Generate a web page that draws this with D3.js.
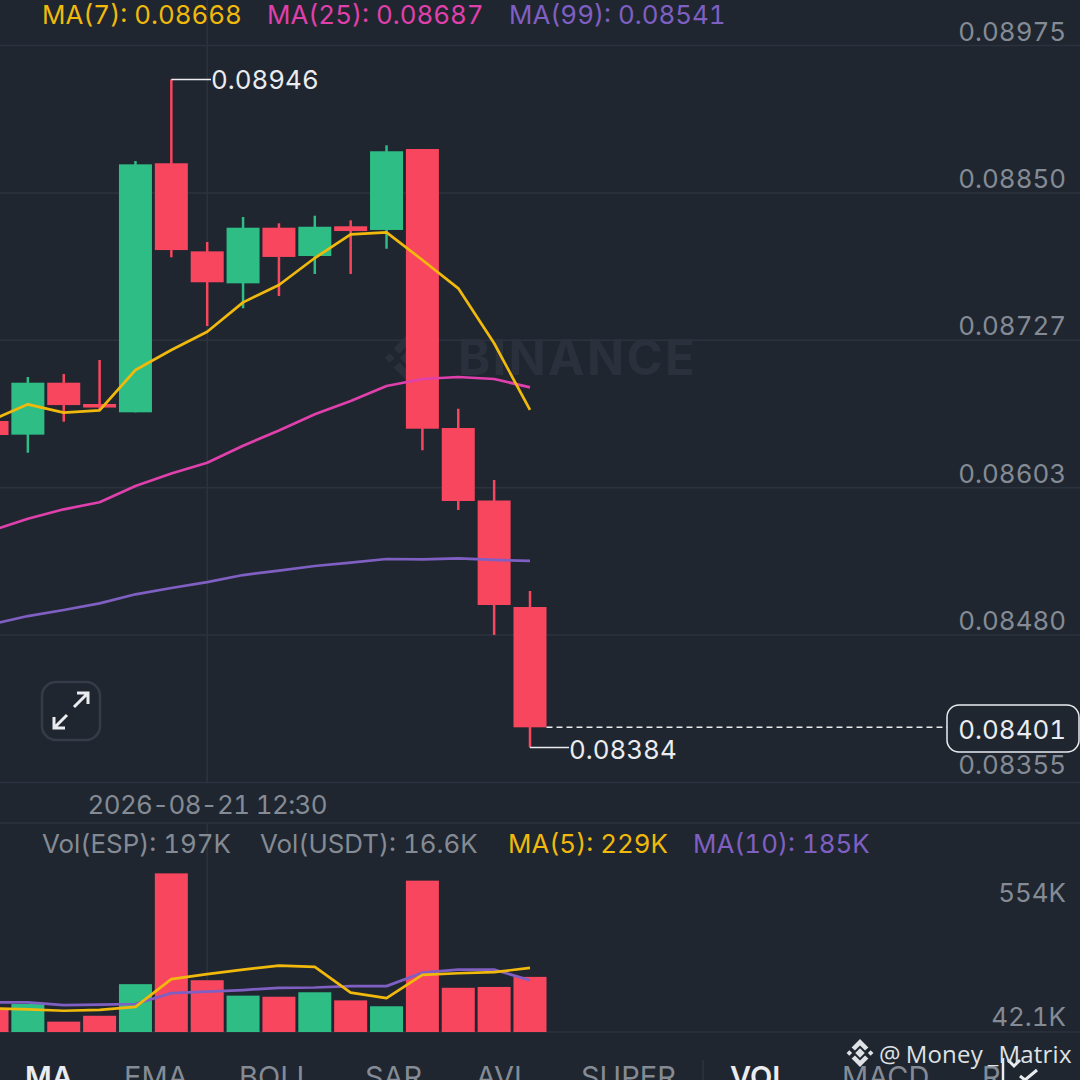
<!DOCTYPE html>
<html>
<head>
<meta charset="utf-8">
<script src="https://cdn.jsdelivr.net/npm/d3@7"></script>
<style>
  html, body { margin: 0; padding: 0; background: #1f2630; overflow: hidden; }
  svg { display: block; font-family: Inter, sans-serif; font-variant-numeric: tabular-nums; }
  svg g.axis text { font-family: Inter, sans-serif; }
</style>
</head>
<body>
<svg width="1080" height="1080"></svg>
<script>
// candles, oldest first
var opens  = [0.086587, 0.086472, 0.086909, 0.086730, 0.086660, 0.088755, 0.088014, 0.087745, 0.088213, 0.087975, 0.088225, 0.088194, 0.088875, 0.086528, 0.085918, 0.085022];
var closes = [0.086469, 0.086909, 0.086721, 0.086700, 0.088746, 0.088025, 0.087754, 0.088213, 0.087967, 0.088221, 0.088185, 0.088856, 0.086522, 0.085914, 0.085039, 0.084010];
var highs  = [0.086587, 0.086957, 0.086982, 0.087100, 0.088774, 0.089460, 0.088093, 0.088303, 0.088250, 0.088314, 0.088275, 0.088906, 0.088875, 0.086690, 0.086091, 0.085157];
var lows   = [0.086469, 0.086320, 0.086581, 0.086679, 0.086660, 0.087964, 0.087386, 0.087535, 0.087638, 0.087824, 0.087824, 0.088036, 0.086340, 0.085838, 0.084787, 0.083840];

var ma7  = [0.086595, 0.086727, 0.086657, 0.086677, 0.087016, 0.087184, 0.087338, 0.087585, 0.087731, 0.087958, 0.088157, 0.088174, 0.087941, 0.087703, 0.087241, 0.08668];
var ma25 = [0.085666, 0.085765, 0.085844, 0.085903, 0.08604, 0.086145, 0.086236, 0.086379, 0.086507, 0.086643, 0.086755, 0.086881, 0.08694, 0.086957, 0.08694, 0.08687];
var ma99 = [0.084877, 0.084946, 0.084997, 0.085053, 0.085129, 0.085182, 0.085232, 0.085291, 0.085328, 0.085367, 0.085395, 0.085426, 0.085423, 0.085432, 0.085418, 0.08541];

// volume in thousands
var volumes = [79, 100, 37, 58, 171, 567, 185, 130, 126, 142, 113, 92, 541, 158, 161, 197];
var volMa5  = [84, 81, 76, 79, 90, 189, 207, 223, 237, 233, 141, 121, 204, 210, 214, 229];
var volMa10 = [106, 106, 96, 98, 100, 139, 144, 150, 158, 159, 164, 164, 212, 223, 223, 185];

// grid lines are evenly spaced, the printed labels are rounded by the exchange
var priceTicks = [0.08975, 0.08851, 0.08727, 0.08603, 0.08479, 0.08355];
var priceLabels = ["0.08975", "0.08850", "0.08727", "0.08603", "0.08480", "0.08355"];
var volumeTicks = [554, 42.1];
var lastPrice = 0.08401;
var highPrice = 0.08946, highIndex = 5;
var lowPrice = 0.08384, lowIndex = 15;
var crosshairIndex = 6;
var crosshairLabel = "2026-08-21 12:30";
var tabs = ["MA", "EMA", "BOLL", "SAR", "AVL", "SUPER", "VOL", "MACD", "R"];
var tabX = [25, 124, 239, 365, 476, 581, 730, 842, 982];

var GREEN = "#2ebd85", RED = "#f9465f", YELLOW = "#f0b90b", PINK = "#e040ab", PURPLE = "#7f5fc2";
var GRID = "#2c333e", MUTED = "#858b95", WHITE = "#eaecef", BG = "#1f2630";
var FONT_SIZE = 25.9;

var svg = d3.select("svg");
var indexes = d3.range(opens.length);

var x = d3.scaleLinear().domain([0, 15]).range([-8, 530]);
var y = d3.scaleLinear().domain([0.08355, 0.08975]).range([782, 45]);
var yVol = d3.scaleLinear().domain([0, 554]).range([1032, 877]);
var bodyWidth = 33;

function candleColor(i) { return closes[i] >= opens[i] ? GREEN : RED; }

// price axis doubles as the horizontal grid
var priceAxis = svg.append("g").attr("class", "axis")
    .call(d3.axisRight(y).tickValues(priceTicks).tickSize(1080)
      .tickFormat(function(d, i) { return priceLabels[i]; }));
priceAxis.attr("font-family", null);
priceAxis.select(".domain").remove();
priceAxis.selectAll("line").attr("stroke", GRID).attr("stroke-width", 1.5);
priceAxis.selectAll("text")
    .attr("x", 1066).attr("dy", null).attr("text-anchor", "end")
    .attr("y", function(d) { return d === 0.08355 ? -9 : -5; })
    .attr("fill", MUTED).attr("font-size", FONT_SIZE);

// separators of the panels
[823, 1032].forEach(function(py) {
  svg.append("line").attr("x1", 0).attr("x2", 1080).attr("y1", py).attr("y2", py)
      .attr("stroke", GRID).attr("stroke-width", 1.5);
});

// crosshair time tick, both panels
[[0, 782], [823, 1032]].forEach(function(r) {
  svg.append("line").attr("x1", x(crosshairIndex)).attr("x2", x(crosshairIndex))
      .attr("y1", r[0]).attr("y2", r[1]).attr("stroke", GRID).attr("stroke-width", 1.5);
});
svg.append("text").attr("x", x(crosshairIndex)).attr("y", 813.5).attr("text-anchor", "middle")
    .attr("fill", MUTED).attr("font-size", FONT_SIZE).attr("letter-spacing", -0.6).text(crosshairLabel);

// binance logo, used twice
function logo(g, cx, cy, s, fill) {
  var shapes = [
    [[0, -0.17], [0.17, 0], [0, 0.17], [-0.17, 0]],
    [[-0.38, -0.1], [-0.28, 0], [-0.38, 0.1], [-0.48, 0]],
    [[0.38, -0.1], [0.48, 0], [0.38, 0.1], [0.28, 0]],
    [[0, -0.5], [0.3, -0.2], [0.18, -0.09], [0, -0.27], [-0.18, -0.09], [-0.3, -0.2]],
    [[0, 0.5], [0.3, 0.2], [0.18, 0.09], [0, 0.27], [-0.18, 0.09], [-0.3, 0.2]]
  ];
  shapes.forEach(function(p) {
    g.append("polygon")
        .attr("points", p.map(function(q) { return (cx + q[0] * s) + "," + (cy + q[1] * s); }).join(" "))
        .attr("fill", fill);
  });
}

// watermark sits under the candles
logo(svg, 408, 358, 48, "#2b313c");
svg.append("text").attr("x", 458).attr("y", 375).attr("fill", "#2b313c")
    .attr("font-size", 49).attr("font-weight", 700).attr("letter-spacing", 2.2).text("BINANCE");

// wicks
svg.append("g").selectAll("line").data(indexes).join("line")
    .attr("x1", function(i) { return x(i); })
    .attr("x2", function(i) { return x(i); })
    .attr("y1", function(i) { return y(highs[i]); })
    .attr("y2", function(i) { return y(lows[i]); })
    .attr("stroke", candleColor)
    .attr("stroke-width", 2.5);

// bodies
svg.append("g").selectAll("rect").data(indexes).join("rect")
    .attr("x", function(i) { return x(i) - bodyWidth / 2; })
    .attr("width", bodyWidth)
    .attr("y", function(i) { return y(Math.max(opens[i], closes[i])); })
    .attr("height", function(i) { return Math.max(1, Math.abs(y(opens[i]) - y(closes[i]))); })
    .attr("fill", candleColor);

// price moving averages
var priceLine = d3.line().x(function(d, i) { return x(i); }).y(function(d) { return y(d); });
[[ma99, PURPLE], [ma25, PINK], [ma7, YELLOW]].forEach(function(s) {
  svg.append("path").datum(s[0])
      .attr("fill", "none").attr("stroke", s[1]).attr("stroke-width", 2.7)
      .attr("stroke-linejoin", "round")
      .attr("d", priceLine);
});

// high and low markers
svg.append("path")
    .attr("d", "M" + x(highIndex) + "," + y(highPrice) + "H211")
    .attr("stroke", WHITE).attr("stroke-width", 1.5).attr("fill", "none");
svg.append("text").attr("x", 211).attr("y", 89).attr("fill", WHITE).attr("font-size", FONT_SIZE)
    .text(d3.format(".5f")(highPrice));
svg.append("path")
    .attr("d", "M" + x(lowIndex) + "," + y(lowPrice) + "H569")
    .attr("stroke", WHITE).attr("stroke-width", 1.5).attr("fill", "none");
svg.append("text").attr("x", 569).attr("y", 759).attr("fill", WHITE).attr("font-size", FONT_SIZE)
    .text(d3.format(".5f")(lowPrice));

// last price
svg.append("line")
    .attr("x1", x(15) + bodyWidth / 2).attr("x2", 947)
    .attr("y1", y(lastPrice)).attr("y2", y(lastPrice))
    .attr("stroke", WHITE).attr("stroke-width", 1.5).attr("stroke-dasharray", "6,4");
svg.append("rect").attr("x", 947).attr("y", 705).attr("width", 132).attr("height", 47).attr("rx", 12)
    .attr("fill", BG).attr("stroke", WHITE).attr("stroke-width", 1.5);
svg.append("text").attr("x", 1066).attr("y", 739).attr("text-anchor", "end")
    .attr("fill", WHITE).attr("font-size", FONT_SIZE).text(d3.format(".5f")(lastPrice));

// expand button
svg.append("rect").attr("x", 42).attr("y", 682).attr("width", 58).attr("height", 58).attr("rx", 14)
    .attr("fill", "none").attr("stroke", "#353c47").attr("stroke-width", 2.5);
svg.append("path")
    .attr("d", "M74,707L88,693M77,693H88V704M67,715L54,728M54,717V728H65")
    .attr("fill", "none").attr("stroke", WHITE).attr("stroke-width", 3);

// volume bars
svg.append("g").selectAll("rect").data(indexes).join("rect")
    .attr("x", function(i) { return x(i) - bodyWidth / 2; })
    .attr("width", bodyWidth)
    .attr("y", function(i) { return yVol(volumes[i]); })
    .attr("height", function(i) { return yVol(0) - yVol(volumes[i]); })
    .attr("fill", candleColor);

var volLine = d3.line().x(function(d, i) { return x(i); }).y(function(d) { return yVol(d); });
[[volMa10, PURPLE], [volMa5, YELLOW]].forEach(function(s) {
  svg.append("path").datum(s[0])
      .attr("fill", "none").attr("stroke", s[1]).attr("stroke-width", 2.7)
      .attr("stroke-linejoin", "round")
      .attr("d", volLine);
});

// volume axis
var volAxis = svg.append("g").attr("class", "axis").call(d3.axisRight(yVol).tickValues(volumeTicks).tickSize(0)
    .tickFormat(function(d) { return d + "K"; }));
volAxis.attr("font-family", null);
volAxis.select(".domain").remove();
volAxis.selectAll("text")
    .attr("x", 1066).attr("dy", null).attr("text-anchor", "end")
    .attr("y", function(d) { return d === 554 ? 24.5 : 5; })
    .attr("fill", MUTED).attr("font-size", FONT_SIZE);

// legends
var legends = [
  ["MA(7): 0.08668", 42, 24, YELLOW], ["MA(25): 0.08687", 267, 24, PINK], ["MA(99): 0.08541", 509, 24, PURPLE],
  ["Vol(ESP): 197K", 42, 853, MUTED], ["Vol(USDT): 16.6K", 260, 853, MUTED],
  ["MA(5): 229K", 508, 853, YELLOW], ["MA(10): 185K", 693, 853, PURPLE]
];
svg.append("g").selectAll("text").data(legends).join("text")
    .attr("x", function(d) { return d[1]; })
    .attr("y", function(d) { return d[2]; })
    .attr("fill", function(d) { return d[3]; })
    .attr("font-size", FONT_SIZE)
    .text(function(d) { return d[0]; });

// bottom tabs, cut by the edge of the screenshot
svg.append("g").selectAll("text").data(tabs).join("text")
    .attr("x", function(d, i) { return tabX[i]; })
    .attr("y", 1087)
    .attr("fill", function(d) { return d === "MA" || d === "VOL" ? WHITE : MUTED; })
    .attr("font-size", 29)
    .attr("font-weight", function(d) { return d === "MA" || d === "VOL" ? 600 : 400; })
    .text(function(d) { return d; });
svg.append("line").attr("x1", 703).attr("x2", 703).attr("y1", 1060).attr("y2", 1080)
    .attr("stroke", GRID).attr("stroke-width", 1.5);
svg.append("line").attr("x1", 1003).attr("x2", 1003).attr("y1", 1058).attr("y2", 1080)
    .attr("stroke", WHITE).attr("stroke-width", 2.5);
svg.append("path").attr("d", "M1008,1060L1014,1066L1020,1060M1020,1076L1025,1080M1025,1080L1037,1070")
    .attr("fill", "none").attr("stroke", WHITE).attr("stroke-width", 3);

// author stamp
logo(svg, 860, 1053, 28, "#dfe1e4");
svg.append("text").attr("x", 879).attr("y", 1063)
    .attr("font-family", "'Open Sans', sans-serif").attr("font-size", 24)
    .attr("word-spacing", -1.5)
    .attr("fill", "#dfe1e4").attr("letter-spacing", 0.2).text("@ Money _Matrix");
</script>
</body>
</html>
